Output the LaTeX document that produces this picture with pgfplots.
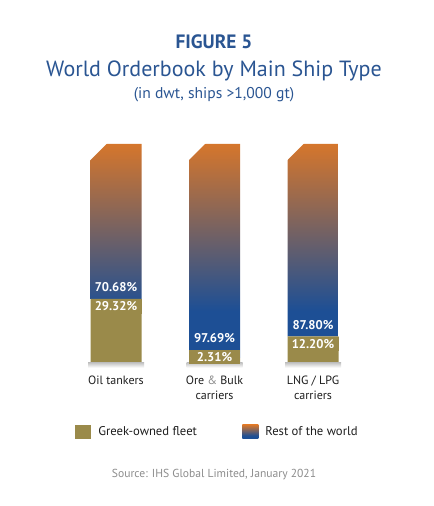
\documentclass[border=0pt]{standalone}
\usepackage{fontspec}
\setmainfont{PT Sans}
\usepackage{pgfplots}
\pgfplotsset{compat=1.18}
\usepackage{pgfplotstable}

\definecolor{titleblue}{HTML}{2A5592}
\definecolor{olivebar}{HTML}{9A8A4A}
\definecolor{barorange}{HTML}{D5762C}
\definecolor{barblue}{HTML}{1D4F95}
\definecolor{srcgray}{HTML}{8C8C8C}
\definecolor{txt}{HTML}{1E1E1E}

\pgfdeclareverticalshading{restshade}{100bp}{color(0bp)=(barblue); color(25bp)=(barblue); color(36bp)=(barblue); color(75bp)=(barorange); color(100bp)=(barorange)}

% x: category, g: Greek-owned fleet, r: rest of the world, ly: label anchor height
\pgfplotstableread{
x g r ly
0 29.32 70.68 29.32
1 2.31 97.69 6.1
2 12.20 87.80 12.20
}\shipdata

\pgfplotsset{base/.style={
  scale only axis, width=221.625pt, height=164.25pt,
  xmin=-0.5, xmax=2.5, ymin=0, ymax=100,
  axis line style={draw=none}, tick style={draw=none},
  ytick=\empty, xtick={0,1,2}, clip=false,
  anchor=south west, at={(50.0625pt,107.25pt)},
}}

\begin{document}
\begin{tikzpicture}
\path[use as bounding box] (0,0) rectangle (325.5pt,379.5pt);

\node[anchor=base, font=\bfseries\fontsize{14.5}{16}\selectfont, text=titleblue] at (160.5pt,342.75pt) {FIGURE 5};
\node[anchor=base, font=\fontsize{16.5}{19}\selectfont, text=titleblue] at (160.5pt,321.9pt) {World Orderbook by Main Ship Type};
\node[anchor=base, font=\fontsize{11.7}{13}\selectfont, text=titleblue] at (160.5pt,305.25pt) {(in dwt, ships >1,000 gt)};
\node[anchor=base, font=\fontsize{8.7}{10}\selectfont, text=srcgray] at (160.5pt,21pt) {Source: IHS Global Limited, January 2021};

\begin{axis}[base, ybar stacked, bar width=38.25pt,
  xticklabels={Oil tankers, Ore {\color{srcgray}\&} Bulk\\carriers, LNG / LPG\\carriers},
  xticklabel style={align=center, font=\fontsize{9}{11.25}\selectfont, text=txt, anchor=north, inner sep=0pt, yshift=-9.5pt},
  legend columns=2,
  legend style={at={(0.0279,-0.315)}, anchor=west, draw=none, fill=none,
    font=\fontsize{9.5}{11}\selectfont, text=txt, inner sep=0pt,
    nodes={inner sep=0pt, anchor=west},
    /tikz/every odd column/.append style={column sep=5.25pt},
    /tikz/every even column/.append style={column sep=34pt}},
]
\addplot[fill=olivebar, draw=none,
  legend image code/.code={\fill[olivebar] (0pt,-5.25pt) rectangle (12pt,5.25pt);}]
  table[x=x, y=g] {\shipdata};
\addlegendentry{Greek-owned fleet}
\addplot[draw=none, shade, shading=restshade,
  legend image code/.code={\shade[shading=restshade] (0pt,-5.25pt) rectangle (12pt,5.25pt);}]
  table[x=x, y=r] {\shipdata};
\addlegendentry{Rest of the world}
\end{axis}

\begin{axis}[base, xtick=\empty]
\addplot[only marks, mark=*, mark size=0.01pt, mark options={opacity=0, draw opacity=0, fill opacity=0}, point meta=\thisrow{r},
  nodes near coords={\pgfmathprintnumber[fixed, fixed zerofill, precision=2, assume math mode=true]{\pgfplotspointmeta}\%},
  nodes near coords style={anchor=south, inner sep=0pt, yshift=5pt, text=white, text opacity=1, font=\bfseries\fontsize{9.5}{12}\selectfont}]
  table[x=x, y=ly] {\shipdata};
\addplot[only marks, mark=*, mark size=0.01pt, mark options={opacity=0, draw opacity=0, fill opacity=0}, point meta=\thisrow{g},
  nodes near coords={\pgfmathprintnumber[fixed, fixed zerofill, precision=2, assume math mode=true]{\pgfplotspointmeta}\%},
  nodes near coords style={anchor=north, inner xsep=0pt, inner ysep=2pt, minimum width=38.25pt, fill=olivebar, text=white, opacity=1, text opacity=1, font=\bfseries\fontsize{9.5}{12}\selectfont}]
  table[x=x, y=ly] {\shipdata};
\pgfplotsinvokeforeach{0,1,2}{
  \fill[white] ([xshift=-20.125pt,yshift=1pt]axis cs:#1,100) -- ([xshift=-6.125pt,yshift=1pt]axis cs:#1,100) -- ([xshift=-20.125pt,yshift=-13pt]axis cs:#1,100) -- cycle;
  \shade[top color=black!22, bottom color=white] ([xshift=-21pt]axis cs:#1,0) rectangle ([xshift=21pt,yshift=-3.5pt]axis cs:#1,0);
}
\end{axis}
\end{tikzpicture}
\end{document}
